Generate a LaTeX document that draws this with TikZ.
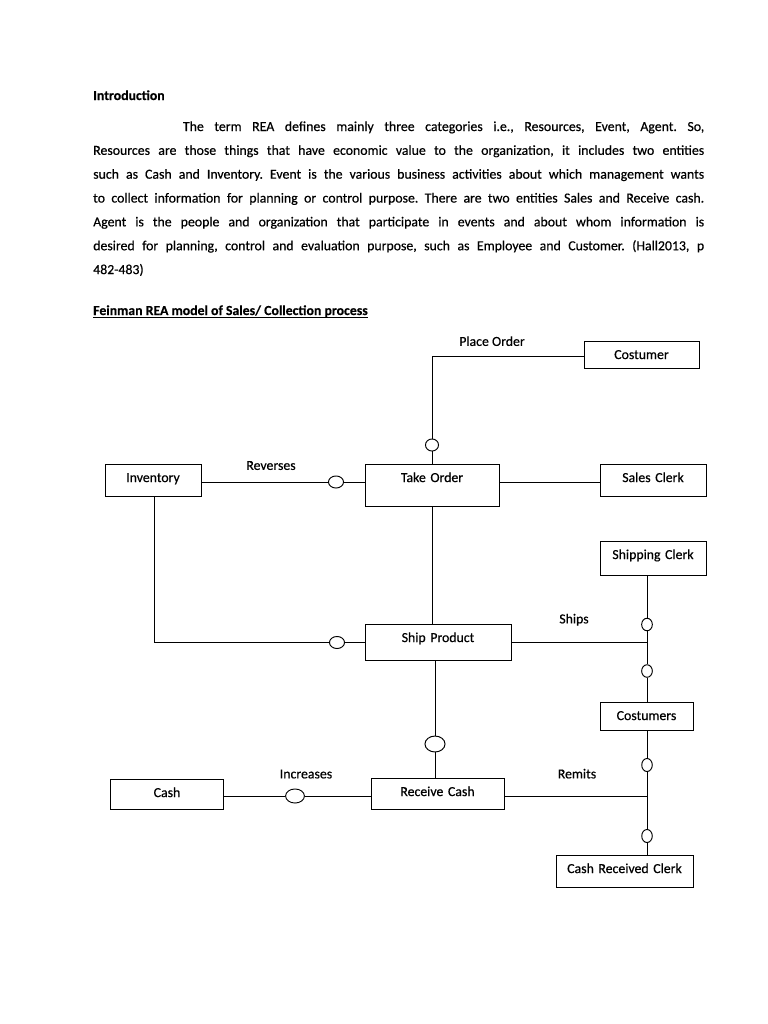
\documentclass[tikz,border=0pt]{standalone}
\usepackage{fontspec}
\setmainfont{Carlito}[UprightFeatures={FakeBold=0.5}, BoldFeatures={FakeBold=0.3}]
\usepackage{tikz}
\usetikzlibrary{positioning}
\usetikzlibrary{shapes.geometric}

\newcommand{\docfont}{\fontsize{11}{19}\selectfont}

\begin{document}
\begin{tikzpicture}[x=0.796875pt, y=-0.796875pt, font=\docfont,
  entity/.style 2 args={draw, line width=0.75pt, anchor=north, inner sep=0pt,
    align=center, text width=#1, text height=14pt, text depth=#2},
  oval/.style 2 args={draw, line width=0.75pt, fill=white, ellipse, inner sep=0pt,
    minimum width=#1, minimum height=#2},
  lbl/.style={inner sep=0pt, text height=7pt, text depth=0pt},
  link/.style={line width=0.75pt}]
  \useasboundingbox (0,0) rectangle (768,1024);

  % text above the model
  \node[anchor=base west, inner sep=0pt, font=\docfont\bfseries] (intro) at (93,100) {Introduction};
  \node[anchor=base west, inner sep=0pt, text width=486.9pt, align=justify] (para) at (93,131)
    {\frenchspacing\hspace*{71.5pt}The term REA defines mainly three categories i.e., Resources, Event, Agent. So,\linebreak
    Resources are those things that have economic value to the organization, it includes two entities\linebreak
    such as Cash and Inventory. Event is the various business activities about which management wants\linebreak
    to collect information for planning or control purpose. There are two entities Sales and Receive cash.\linebreak
    Agent is the people and organization that participate in events and about whom information is\linebreak
    desired for planning, control and evaluation purpose, such as Employee and Customer. (Hall2013, p\linebreak
    482-483)};
  \node[anchor=base west, inner sep=0pt, font=\docfont\bfseries] (title) at (93,315)
    {Feinman REA model of Sales/ Collection process};
  \draw[line width=0.8pt] ([yshift=-2.2pt]title.base west) -- ([yshift=-2.2pt]title.base east);

  % entities
  \node[entity={91.6pt}{7.5pt}] (costumer) at (641.5,341) {Costumer};
  \node[entity={76.5pt}{11.5pt}] (inventory) at (153,464) {Inventory};
  \node[entity={106.8pt}{19.5pt}] (take_order) at (432,464) {Take Order};
  \node[entity={84.5pt}{11.5pt}] (sales_clerk) at (653,464) {Sales Clerk};
  \node[entity={84.5pt}{13.1pt}] (shipping_clerk) at (653,541) {Shipping Clerk};
  \node[entity={116.3pt}{14.7pt}] (ship_product) at (438,624) {Ship Product};
  \node[entity={74.1pt}{8.3pt}] (costumers) at (646.5,702) {Costumers};
  \node[entity={89.3pt}{9.9pt}] (cash) at (167,779) {Cash};
  \node[entity={106pt}{10.7pt}] (receive_cash) at (437.5,778) {Receive Cash};
  \node[entity={109.2pt}{11.5pt}] (cash_clerk) at (624.5,855) {Cash Received Clerk};

  % cardinality ovals
  \node[oval={10.4pt}{9.6pt}] (o_place) at (432,445) {};
  \node[oval={12pt}{9.6pt}] (o_reverse) at (336,482) {};
  \node[oval={12pt}{9.6pt}] (o_ship_inv) at (337,642.5) {};
  \node[oval={8.5pt}{10pt}] (o_ship_sc) at (647,624.5) {};
  \node[oval={8.5pt}{10pt}] (o_ship_cu) at (647,671) {};
  \node[oval={16pt}{12.7pt}] (o_receive) at (435,744) {};
  \node[oval={15pt}{11.2pt}] (o_increase) at (295,796) {};
  \node[oval={8.4pt}{10.4pt}] (o_remit_cu) at (647,765) {};
  \node[oval={8.4pt}{10.4pt}] (o_remit_cl) at (647,836) {};

  \coordinate (place_corner) at (432,356);
  \coordinate (inv_corner) at (154,642.5);
  \coordinate (ship_join) at (647,642.5);
  \coordinate (remit_join) at (647,796);

  % relations
  \draw[link] (costumer.west |- place_corner) -- (place_corner) -- (o_place) -- (o_place |- take_order.north);
  \draw[link] (inventory.east |- o_reverse) -- (o_reverse) -- (take_order.west |- o_reverse);
  \draw[link] (take_order.east |- o_reverse) -- (sales_clerk.west |- o_reverse);
  \draw[link] (take_order.south) -- (take_order.south |- ship_product.north);
  \draw[link] (inv_corner |- inventory.south) -- (inv_corner) -- (o_ship_inv) -- (ship_product.west |- o_ship_inv);
  \draw[link] (ship_product.east |- ship_join) -- (ship_join);
  \draw[link] (shipping_clerk.south -| ship_join) -- (o_ship_sc) -- (o_ship_cu) -- (costumers.north -| ship_join);
  \draw[link] (o_receive |- ship_product.south) -- (o_receive) -- (o_receive |- receive_cash.north);
  \draw[link] (cash.east |- o_increase) -- (o_increase) -- (receive_cash.west |- o_increase);
  \draw[link] (receive_cash.east |- remit_join) -- (remit_join);
  \draw[link] (costumers.south -| remit_join) -- (o_remit_cu) -- (o_remit_cl) -- (cash_clerk.north -| remit_join);

  \node[lbl] (place_order) at (492,341.5) {Place Order};
  \node[lbl] (reverses) at (271,465.5) {Reverses};
  \node[lbl] (ships) at (574,619) {Ships};
  \node[lbl] (increases) at (306,774) {Increases};
  \node[lbl] (remits) at (577,774) {Remits};
\end{tikzpicture}
\end{document}
